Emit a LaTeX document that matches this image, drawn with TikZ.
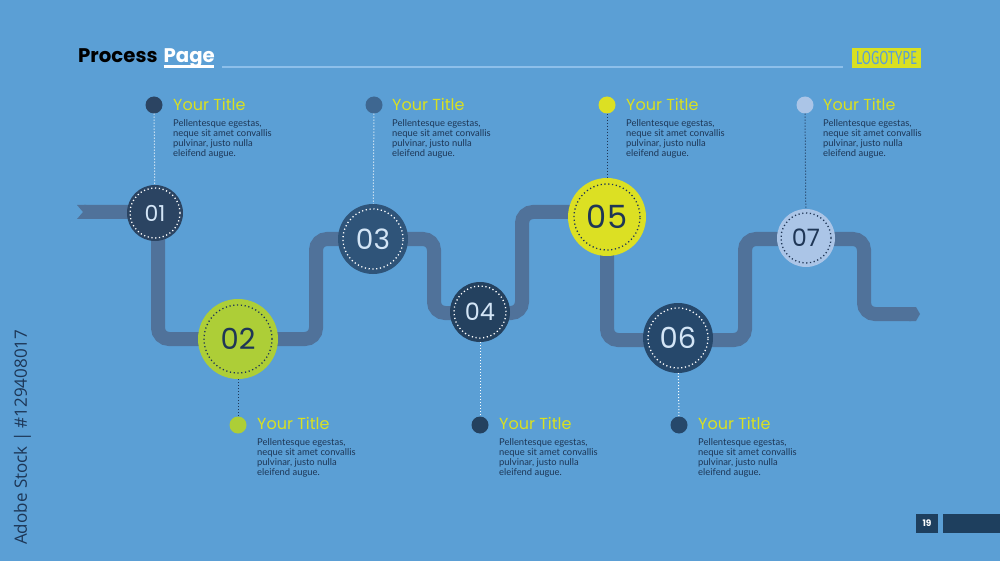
\documentclass[tikz,border=0pt]{standalone}
\usepackage{fontspec}
\setmainfont{Lato}
\newfontfamily\popfont{Poppins}
\newfontfamily\firafont{Fira Sans}
\newfontfamily\opfont{Open Sans}
\usepackage{tikz}

\definecolor{bgblue}{HTML}{5B9FD5}
\definecolor{trackgray}{HTML}{50729A}
\definecolor{navyA}{HTML}{2B4462}
\definecolor{navyB}{HTML}{2F5479}
\definecolor{navyC}{HTML}{24415F}
\definecolor{navyD}{HTML}{26486B}
\definecolor{limegreen}{HTML}{ADCE37}
\definecolor{lemon}{HTML}{DCE023}
\definecolor{paleblue}{HTML}{ABC5E7}
\definecolor{midblue}{HTML}{3E6791}
\definecolor{titleyellow}{HTML}{D9E021}
\definecolor{bodyink}{HTML}{1D3656}
\definecolor{numlight}{HTML}{D3E5F6}
\definecolor{numdark}{HTML}{1F3656}
\definecolor{ruleblue}{HTML}{8DBFEA}
\definecolor{pagebox}{HTML}{1E3F5E}

\begin{document}
\begin{tikzpicture}[x=1pt, y=-1pt,
    track/.style={draw=trackgray, line width=14pt, rounded corners=11pt},
    stepnum/.style={circle, inner sep=0pt},
    ring/.style={line width=1.3pt, dash pattern=on 1.2pt off 2.6pt},
    titledot/.style={circle, minimum size=17pt, inner sep=0pt},
    leader/.style={line width=1pt, dash pattern=on 1pt off 2pt},
    ytitle/.style={anchor=base west, inner sep=0pt, text=titleyellow, font=\popfont\fontsize{16}{18}\selectfont},
    blurb/.style={anchor=north west, inner sep=0pt, align=left, text=bodyink, font=\fontsize{9.4}{10.2}\selectfont}]

    % background and page frame
    \fill[bgblue] (0,0) rectangle (1000,561);

    % header
    \node[anchor=base west, inner sep=0pt, font=\popfont\bfseries\fontsize{19.7}{24}\selectfont] (hproc) at (78,63) {Process};
    \node[anchor=base west, inner sep=0pt, text=white, font=\popfont\bfseries\fontsize{19.7}{24}\selectfont] (hpage) at (163.5,63) {Page};
    \draw[white, line width=2.5pt] (163.5,66.5) -- (214,66.5);
    \draw[ruleblue, line width=2pt] (222,67) -- (843,67);
    \node[fill=titleyellow, minimum width=69pt, minimum height=20pt, inner sep=0pt, text=bgblue, font=\firafont\fontsize{19}{20}\selectfont] (logo) at (886.5,58.3) {\scalebox{0.7}[1]{LOGOTYPE}};

    % the winding track
    \coordinate (tstart) at (84,212);
    \coordinate (tend) at (911,314);
    \draw[track] (tstart) -- (158,212) -- (158,339) -- (316,339) -- (316,239) -- (434,239) -- (434,313)
        -- (522,313) -- (522,212) -- (607,212) -- (607,340) -- (745,340) -- (745,239) -- (864,239) -- (864,314) -- (tend);
    \fill[trackgray] (77,205) -- (86,205) -- (86,219) -- (77,219) -- (83,212) -- cycle;
    \fill[trackgray] (909,307) -- (916,307) -- (920,314) -- (916,321) -- (909,321) -- cycle;

    % steps
    \node[stepnum, fill=navyA, text=numlight, minimum size=56pt, font=\popfont\fontsize{22}{22}\selectfont] (c1) at (155,213) {01};
    \node[stepnum, fill=limegreen, text=numdark, minimum size=80pt, font=\popfont\fontsize{29}{29}\selectfont] (c2) at (238,339) {02};
    \node[stepnum, fill=navyB, text=numlight, minimum size=70pt, font=\popfont\fontsize{28}{28}\selectfont] (c3) at (373,239) {03};
    \node[stepnum, fill=navyC, text=numlight, minimum size=60pt, font=\popfont\fontsize{24}{24}\selectfont] (c4) at (480,312) {04};
    \node[stepnum, fill=lemon, text=numdark, minimum size=78pt, font=\popfont\fontsize{32}{32}\selectfont] (c5) at (607,217) {05};
    \node[stepnum, fill=navyD, text=numlight, minimum size=70pt, font=\popfont\fontsize{29}{29}\selectfont] (c6) at (678,338) {06};
    \node[stepnum, fill=paleblue, text=numdark, minimum size=58pt, font=\popfont\fontsize{24}{24}\selectfont] (c7) at (806,238) {07};

    \draw[ring, white] (c1.center) circle (25pt);
    \draw[ring, numdark] (c2.center) circle (34pt);
    \draw[ring, white] (c3.center) circle (30pt);
    \draw[ring, white] (c4.center) circle (26pt);
    \draw[ring, numdark] (c5.center) circle (33pt);
    \draw[ring, white] (c6.center) circle (30pt);
    \draw[ring, numdark] (c7.center) circle (25pt);

    % titles above
    \node[titledot, fill=navyA] (d1) at (154,105) {};
    \node[titledot, fill=midblue] (d3) at (374,105) {};
    \node[titledot, fill=lemon] (d5) at (607,105) {};
    \node[titledot, fill=paleblue] (d7) at (805,105) {};
    % titles below
    \node[titledot, fill=limegreen] (d2) at (238,425) {};
    \node[titledot, fill=navyC] (d4) at (480,425) {};
    \node[titledot, fill=navyD] (d6) at (679,425) {};

    \draw[leader, white] (d1) -- (c1);
    \draw[leader, white] (d3) -- (c3);
    \draw[leader, numdark] (d5) -- (c5);
    \draw[leader, numdark] (d7) -- (c7);
    \draw[leader, numdark] (c2) -- (d2);
    \draw[leader, white] (c4) -- (d4);
    \draw[leader, white] (c6) -- (d6);

    \node[ytitle] (t1) at (173,110.5) {Your Title};
    \node[ytitle] (t3) at (392,110.5) {Your Title};
    \node[ytitle] (t5) at (626,110.5) {Your Title};
    \node[ytitle] (t7) at (823,110.5) {Your Title};
    \node[ytitle] (t2) at (257,429.5) {Your Title};
    \node[ytitle] (t4) at (499,429.5) {Your Title};
    \node[ytitle] (t6) at (698,429.5) {Your Title};

    \node[blurb] (b1) at (173,119) {Pellentesque egestas,\\neque sit amet convallis\\pulvinar, justo nulla\\eleifend augue.};
    \node[blurb] (b3) at (392,119) {Pellentesque egestas,\\neque sit amet convallis\\pulvinar, justo nulla\\eleifend augue.};
    \node[blurb] (b5) at (626,119) {Pellentesque egestas,\\neque sit amet convallis\\pulvinar, justo nulla\\eleifend augue.};
    \node[blurb] (b7) at (823,119) {Pellentesque egestas,\\neque sit amet convallis\\pulvinar, justo nulla\\eleifend augue.};
    \node[blurb] (b2) at (257,438) {Pellentesque egestas,\\neque sit amet convallis\\pulvinar, justo nulla\\eleifend augue.};
    \node[blurb] (b4) at (499,438) {Pellentesque egestas,\\neque sit amet convallis\\pulvinar, justo nulla\\eleifend augue.};
    \node[blurb] (b6) at (698,438) {Pellentesque egestas,\\neque sit amet convallis\\pulvinar, justo nulla\\eleifend augue.};

    % page number and side credit
    \node[fill=pagebox, minimum width=22pt, minimum height=19pt, inner sep=0pt, text=white, font=\popfont\bfseries\fontsize{9}{10}\selectfont] (pnum) at (927,523.5) {19};
    \fill[pagebox] (943,514) rectangle (1000,533);
    \node[rotate=90, anchor=west, inner sep=0pt, text=bodyink, font=\opfont\fontsize{17}{19}\selectfont] (credit) at (22.5,545) {Adobe Stock | \#129408017};
\end{tikzpicture}
\end{document}
